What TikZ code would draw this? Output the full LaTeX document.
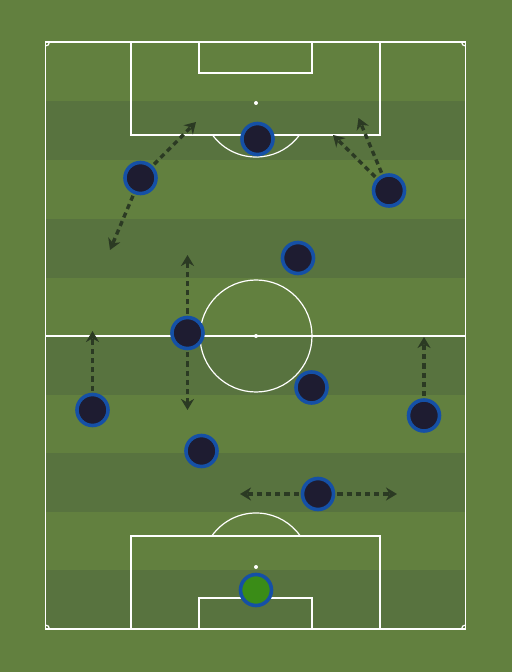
\documentclass[tikz,border=0pt]{standalone}
\usetikzlibrary{arrows.meta}
\definecolor{pitch}{HTML}{62803F}
\definecolor{stripe}{HTML}{58733F}
\definecolor{shirt}{HTML}{1E1C31}
\definecolor{ring}{HTML}{1550A6}
\definecolor{keeper}{HTML}{3A8C17}
\definecolor{run}{HTML}{2B3A23}
\begin{document}
\begin{tikzpicture}[x=0.5pt,y=-0.5pt,
	mark line/.style={white, line width=0.6pt},
	player/.style={circle, draw=ring, fill=shirt, line width=1.8pt, minimum size=15.5pt, inner sep=0pt},
	run line/.style={run, line width=1.7pt, dash pattern=on 2.6pt off 2pt, shorten <=1pt, -{Stealth[length=5.5pt,width=6.5pt]}}]
				\fill[pitch] (0,0) rectangle (512,672);
				\useasboundingbox (0,0) rectangle (512,672);
				
				% stripes
				\foreach \y in {101,219,336,453,570}
					\fill[stripe] (45.5,\y) rectangle (465.5,{\y+58.7});
				
				% markings
				\draw[mark line] (45.5,42) rectangle (465.5,629);
				\draw[mark line] (45.5,336) -- (465.5,336);
				\draw[mark line] (256,336) circle[radius=28pt];
				\fill[white] (256,336) circle[radius=1pt];
				
				\draw[mark line] (131,42) rectangle (380,135);
				\draw[mark line] (199,42) rectangle (312,73);
				\fill[white] (256,103) circle[radius=1pt];
				\draw[mark line] (212.5,135) arc[start angle=-143.7, end angle=-36.3, radius=27pt];
				
				\draw[mark line] (131,536) rectangle (380,629);
				\draw[mark line] (199,598) rectangle (312,629);
				\fill[white] (256,567) circle[radius=1pt];
				\draw[mark line] (211.8,536) arc[start angle=145, end angle=35, radius=27pt];
				
				\draw[mark line] (49.5,42) arc[start angle=0, end angle=-90, radius=2pt];
				\draw[mark line] (461.5,42) arc[start angle=180, end angle=270, radius=2pt];
				\draw[mark line] (49.5,629) arc[start angle=0, end angle=90, radius=2pt];
				\draw[mark line] (461.5,629) arc[start angle=180, end angle=90, radius=2pt];
				
				% players
				\node[player] (st) at (257.5,139) {};
				\node[player] (lw) at (140.5,178) {};
				\node[player] (rw) at (389,190.5) {};
				\node[player] (am) at (298,258) {};
				\node[player] (lcm) at (187.5,333) {};
				\node[player] (rcm) at (311.5,387.5) {};
				\node[player] (lb) at (92.5,410) {};
				\node[player] (rb) at (424,415.5) {};
				\node[player] (lcb) at (201.5,451) {};
				\node[player] (rcb) at (318,494) {};
				\node[player, fill=keeper] (gk) at (256,590) {};
				
				% runs
				\coordinate (lw up) at (196,122);
				\coordinate (lw down) at (110,250);
				\coordinate (rw in) at (333,135);
				\coordinate (rw up) at (358.5,118);
				\coordinate (lcm up) at (187.5,255);
				\coordinate (lcm down) at (187.5,410);
				\coordinate (lb up) at (92.5,331);
				\coordinate (rb up) at (424,337);
				\coordinate (rcb left) at (240,494);
				\coordinate (rcb right) at (397,494);
				
				\draw[run line] (lw) -- (lw up);
				\draw[run line] (lw) -- (lw down);
				\draw[run line] (rw) -- (rw in);
				\draw[run line] (rw) -- (rw up);
				\draw[run line] (lcm) -- (lcm up);
				\draw[run line] (lcm) -- (lcm down);
				\draw[run line] (lb) -- (lb up);
				\draw[run line] (rb) -- (rb up);
				\draw[run line] (rcb) -- (rcb left);
				\draw[run line] (rcb) -- (rcb right);
			\end{tikzpicture}
\end{document}
